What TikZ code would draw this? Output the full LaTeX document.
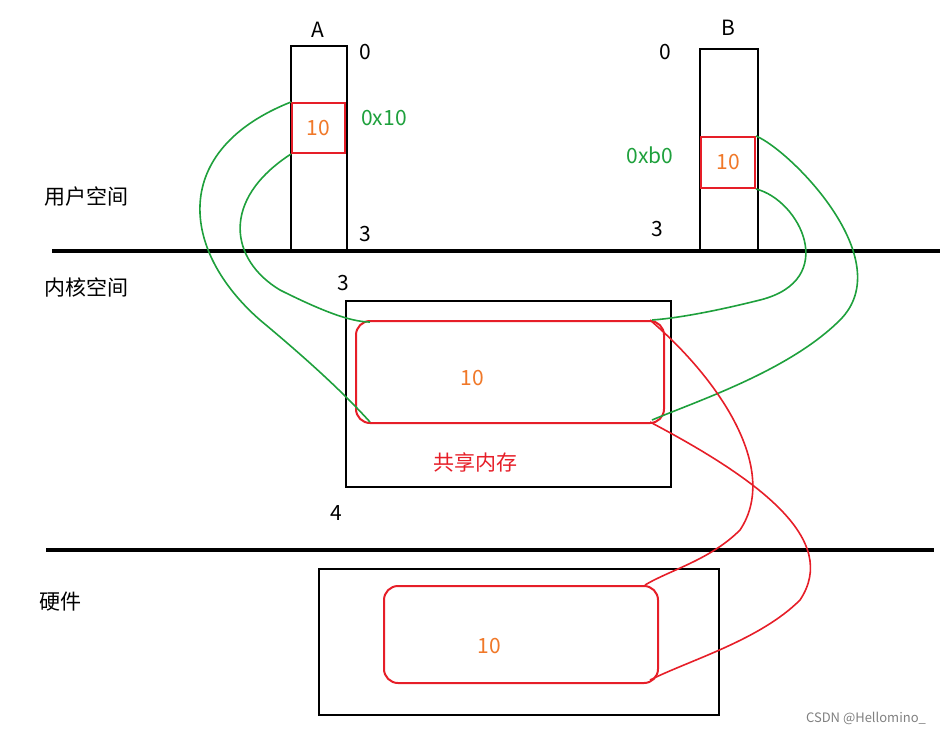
\documentclass[tikz,border=0pt]{standalone}
\usepackage{fontspec}
\setmainfont{Noto Sans CJK SC}
\definecolor{gr}{RGB}{30,160,60}
\definecolor{rd}{RGB}{230,30,40}
\definecolor{org}{RGB}{240,120,40}
\begin{document}
\begin{tikzpicture}[x=1pt,y=-1pt,
  lbl/.style={font=\fontsize{21}{24}\selectfont},
  box/.style={draw=black,line width=2pt},
  rbox/.style={draw=rd,line width=2pt},
  gline/.style={draw=gr,line width=1.6pt},
  rline/.style={draw=rd,line width=1.6pt}]
\useasboundingbox (0,0) rectangle (951,734);
\draw[line width=3.5pt] (52,251) coordinate(l1a) -- (940,251) coordinate(l1b);
\draw[line width=3.5pt] (46,550) coordinate(l2a) -- (934,550) coordinate(l2b);
% columns
\node[box,minimum width=56,minimum height=206,anchor=north west,inner sep=0] (colA) at (290,45) {};
\node[box,minimum width=58,minimum height=203,anchor=north west,inner sep=0] (colB) at (699,48) {};
\node[rbox,minimum width=53,minimum height=50,anchor=north west,inner sep=0,text=org,lbl] (ba) at (291,102) {10};
\node[rbox,minimum width=54,minimum height=51,anchor=north west,inner sep=0,text=org,lbl] (bb) at (700,136) {10};
\node[lbl] (tA) at (318,30) {A};
\node[lbl] (tB) at (728,28) {B};
\node[lbl] (a0) at (365,52) {0};
\node[lbl] (a3) at (365,234) {3};
\node[lbl] (b0) at (665,52) {0};
\node[lbl] (b3) at (657,229) {3};
\node[lbl,text=gr] (ax) at (384,118) {0x10};
\node[lbl,text=gr] (bx) at (650,155) {0xb0};
\node[lbl] (u) at (87,197) {用户空间};
\node[lbl] (k) at (87,287) {内核空间};
\node[lbl] (h) at (60,602) {硬件};
% kernel
\node[box,minimum width=325,minimum height=186,anchor=north west,inner sep=0] (kr) at (345,300) {};
\node[lbl] (k3) at (343,283) {3};
\node[lbl] (k4) at (336,513) {4};
\node[rbox,rounded corners=14,minimum width=308,minimum height=102,anchor=north west,inner sep=0] (sh) at (355,320) {};
\node[lbl,text=org] (s10) at (472,378) {10};
\node[lbl,text=rd] (shm) at (475,462) {共享内存};
% hardware
\node[box,minimum width=400,minimum height=146,anchor=north west,inner sep=0] (hw) at (318,568) {};
\node[rbox,rounded corners=14,minimum width=274,minimum height=97,anchor=north west,inner sep=0] (hm) at (383,585) {};
\node[lbl,text=org] (h10) at (489,646) {10};
\node[font=\fontsize{13}{15}\selectfont,text=gray] (wm) at (866,718) {CSDN @Hellomino\_};
% green curves
\draw[gline] (ba.north west) .. controls (170,150) and (180,250) .. (260,320) .. controls (320,370) and (350,400) .. (370,422);
\draw[gline] (ba.south west) .. controls (220,200) and (230,260) .. (280,290) .. controls (320,310) and (350,322) .. (370,322);
\draw[gline] (bb.north east) .. controls (790,150) and (900,260) .. (840,320) .. controls (790,370) and (700,400) .. (652,420);
\draw[gline] (bb.south east) .. controls (800,200) and (840,280) .. (760,300) .. controls (720,310) and (680,318) .. (652,320);
% red curves
\draw[rline] (650,320) .. controls (720,380) and (780,470) .. (740,530) .. controls (710,560) and (670,570) .. (645,585);
\draw[rline] (650,422) .. controls (760,480) and (840,540) .. (800,600) .. controls (760,640) and (690,660) .. (650,680);
\end{tikzpicture}
\end{document}
